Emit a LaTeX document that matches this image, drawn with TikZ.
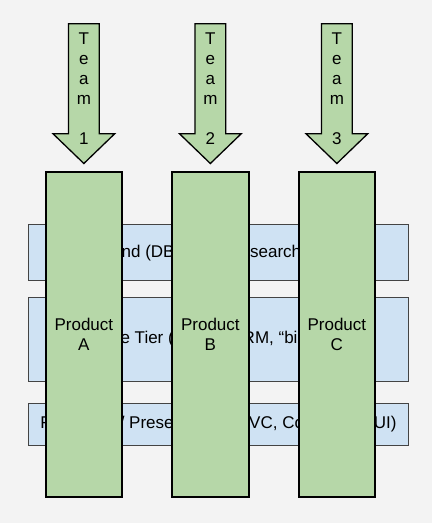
\documentclass[tikz,border=0pt]{standalone}
\usepackage{fontspec}
\setmainfont{Liberation Sans}
\usetikzlibrary{positioning, calc}

\definecolor{bggray}{HTML}{F3F3F3}
\definecolor{prodgreen}{HTML}{B6D7A8}
\definecolor{tierblue}{HTML}{CFE2F3}
\definecolor{tierline}{HTML}{434343}

\begin{document}
\begin{tikzpicture}[
    x=1bp, y=-1bp,
    node distance=48.2bp,
    % Node styles
    tier/.style={rectangle, draw=tierline, line width=1bp, fill=tierblue,
                 minimum width=379.4bp, inner sep=0pt,
                 font=\fontsize{17bp}{20bp}\selectfont},
    product/.style={rectangle, draw=black, line width=2bp, fill=prodgreen,
                    minimum width=76.3bp, minimum height=324.7bp, inner sep=0pt,
                    align=center, font=\fontsize{17bp}{20bp}\selectfont},
    % Team arrows
    teamarrow/.style={draw=black, line width=1.3bp, fill=prodgreen, line join=miter},
    teamlabel/.style={anchor=north, align=center, inner sep=0pt,
                      font=\fontsize{17bp}{20bp}\selectfont}
]

% --- Background / bounding box ---
\fill[bggray] (0,0) rectangle (432,523);

% --- Tiers (drawn first, the products cover them) ---
\node[tier, minimum height=56bp] (backend) at (218.5,252.8)
    {Backend (DB, storage, search engine)};
\node[tier, minimum height=84.4bp] (middle) at (218.5,339.6)
    {Middle Tier (Model, ORM, “biz logic”)};
\node[tier, minimum height=42bp] (frontend) at (218.5,424.2)
    {Front End / Presentation (MVC, Controllers, UI)};

% --- Products ---
\node[product] (prodA) at (83.85,334.35) {Product\\A};
\node[product] (prodB) [right=of prodA] {Product\\B};
\node[product] (prodC) [right=of prodB] {Product\\C};

% --- Teams pointing down at their product ---
\foreach \pname/\tnum in {prodA/1, prodB/2, prodC/3} {
    \coordinate (tip\tnum) at ($(\pname.north)+(0,-7.5)$);
    \draw[teamarrow] (tip\tnum) -- ++(-30.8,-29.7) -- ++(15.4,0) -- ++(0,-110)
        -- ++(30.8,0) -- ++(0,110) -- ++(15.4,0) -- cycle;
    \node[teamlabel] (team\tnum) at ($(tip\tnum)+(0,-130.6)$)
        {T\\e\\a\\m\\[20bp]\tnum};
}

\end{tikzpicture}
\end{document}
